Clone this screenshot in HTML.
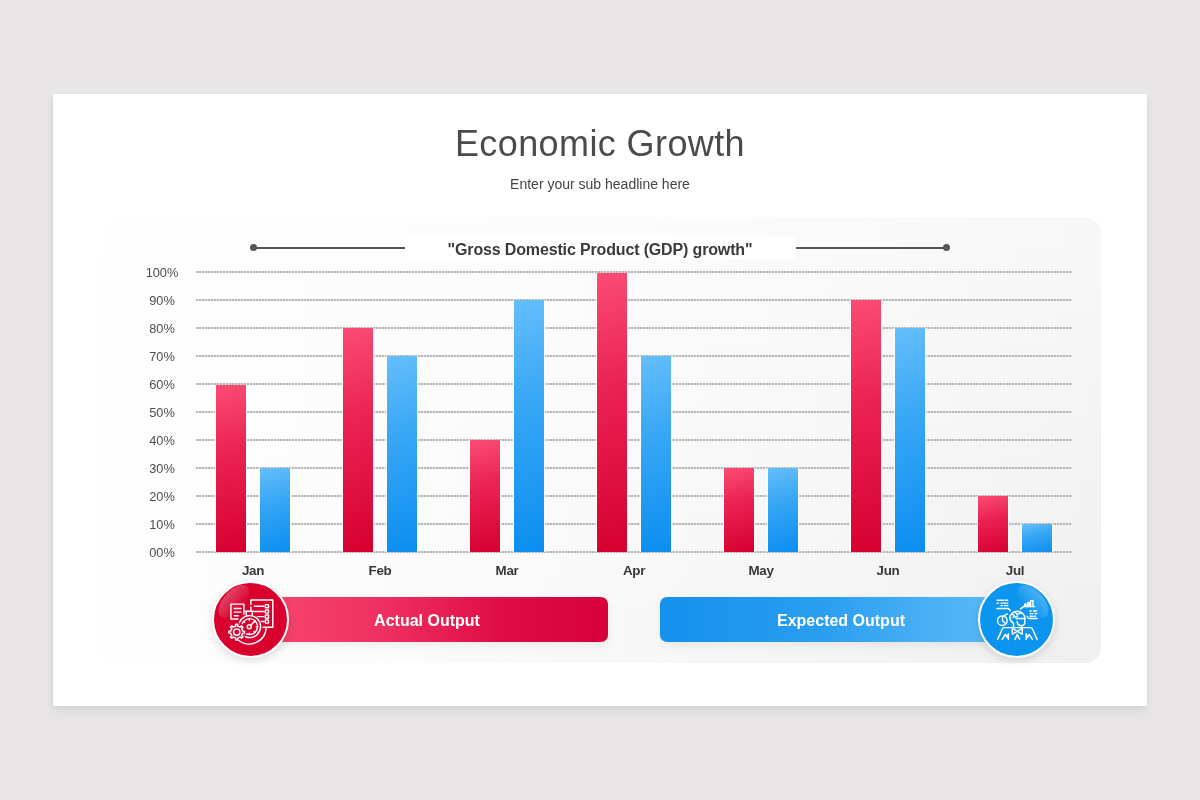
<!DOCTYPE html>
<html><head><meta charset="utf-8">
<style>
*{margin:0;padding:0;box-sizing:border-box}
html,body{width:1200px;height:800px;overflow:hidden}
.title,.sub,.gtitle,.yl,.ml,.lt{will-change:transform}
body{background:#e8e6e7;font-family:"Liberation Sans",sans-serif;position:relative}
.slide{position:absolute;left:53px;top:94px;width:1094px;height:612px;background:#fff;box-shadow:0 5px 10px rgba(0,0,0,0.07),-1px 1px 5px rgba(0,0,0,0.05)}
.title{position:absolute;left:0;width:1200px;top:123px;text-align:center;font-size:36px;letter-spacing:0.4px;color:#4b4b4b;line-height:42px;white-space:nowrap}
.sub{position:absolute;left:0;width:1200px;top:176px;text-align:center;font-size:14px;color:#444;line-height:16px;white-space:nowrap}
.panel{position:absolute;left:100px;top:217px;width:1001px;height:446px;border-radius:16px;
 background:linear-gradient(to bottom,rgba(255,255,255,.55) 0%,rgba(255,255,255,0) 100%),
 linear-gradient(to right,#fefefe 0%,#fbfbfb 30%,#f5f5f5 70%,#efefef 100%)}
.hline{position:absolute;height:2px;background:#555;top:246.5px}
.dot{position:absolute;width:7px;height:7px;border-radius:50%;background:#555;top:244.2px}
.gbox{position:absolute;left:405px;top:236px;width:390px;height:23px;background:#fff}
.gtitle{position:absolute;left:0;width:1200px;text-align:center;top:240.5px;font-weight:700;font-size:16px;letter-spacing:-0.15px;line-height:18px;color:#3a3a3a;white-space:nowrap}
.grid{position:absolute;left:196px;width:876px;height:2px;
 background:repeating-linear-gradient(90deg,#b6b6b6 0,#b6b6b6 2px,#e3e3e3 2px,#e3e3e3 3px)}
.yl{position:absolute;width:44px;left:140px;text-align:center;font-size:12.8px;color:#4e4e4e;line-height:15px}
.bar{position:absolute;width:30px;bottom:248px;box-shadow:1.2px 0 0 rgba(255,255,255,.9),-1.2px 0 0 rgba(255,255,255,.9)}
.r{background:linear-gradient(165deg,#fb4c74 0%,#ea2353 40%,#d6002f 100%)}
.b{background:linear-gradient(165deg,#64befa 0%,#38a7f5 40%,#0b8ef0 100%)}
.ml{position:absolute;width:60px;text-align:center;font-weight:700;font-size:13.4px;letter-spacing:-0.3px;color:#383838;top:563px;line-height:16px}
.leg{position:absolute;top:597px;height:45px;border-radius:7px;box-shadow:0 4px 8px rgba(0,0,0,.06)}
.lt{position:absolute;top:612px;color:#fff;font-weight:700;font-size:16px;line-height:18px;white-space:nowrap;text-align:center;width:200px}
.circ{position:absolute;width:77px;height:77px;border-radius:50%;border:2.5px solid #fff;box-shadow:0 3px 9px rgba(0,0,0,.13);overflow:hidden}
.hl{position:absolute;border-radius:50%}
</style></head><body>
<div class="slide"></div>
<div class="title">Economic Growth</div>
<div class="sub">Enter your sub headline here</div>
<div class="panel"></div>

<div class="hline" style="left:253px;width:152px"></div>
<div class="dot" style="left:250px"></div>
<div class="hline" style="left:796px;width:151px"></div>
<div class="dot" style="left:943px"></div>
<div class="gbox"></div>
<div class="gtitle">"Gross Domestic Product (GDP) growth"</div>

<div class="grid" style="top:271px"></div>
<div class="grid" style="top:299px"></div>
<div class="grid" style="top:327px"></div>
<div class="grid" style="top:355px"></div>
<div class="grid" style="top:383px"></div>
<div class="grid" style="top:411px"></div>
<div class="grid" style="top:439px"></div>
<div class="grid" style="top:467px"></div>
<div class="grid" style="top:495px"></div>
<div class="grid" style="top:523px"></div>
<div class="grid" style="top:551px"></div>
<div class="yl" style="top:265px">100%</div>
<div class="yl" style="top:293px">90%</div>
<div class="yl" style="top:321px">80%</div>
<div class="yl" style="top:349px">70%</div>
<div class="yl" style="top:377px">60%</div>
<div class="yl" style="top:405px">50%</div>
<div class="yl" style="top:433px">40%</div>
<div class="yl" style="top:461px">30%</div>
<div class="yl" style="top:489px">20%</div>
<div class="yl" style="top:517px">10%</div>
<div class="yl" style="top:545px">00%</div>

<div class="bar r" style="left:216px;height:167px"></div>
<div class="bar b" style="left:260px;height:84px"></div>
<div class="bar r" style="left:343px;height:224px"></div>
<div class="bar b" style="left:387px;height:196px"></div>
<div class="bar r" style="left:470px;height:112px"></div>
<div class="bar b" style="left:514px;height:252px"></div>
<div class="bar r" style="left:597px;height:279px"></div>
<div class="bar b" style="left:641px;height:196px"></div>
<div class="bar r" style="left:724px;height:84px"></div>
<div class="bar b" style="left:768px;height:84px"></div>
<div class="bar r" style="left:851px;height:252px"></div>
<div class="bar b" style="left:895px;height:224px"></div>
<div class="bar r" style="left:978px;height:56px"></div>
<div class="bar b" style="left:1022px;height:28px"></div>

<div class="ml" style="left:223px">Jan</div>
<div class="ml" style="left:350px">Feb</div>
<div class="ml" style="left:477px">Mar</div>
<div class="ml" style="left:604px">Apr</div>
<div class="ml" style="left:731px">May</div>
<div class="ml" style="left:858px">Jun</div>
<div class="ml" style="left:985px">Jul</div>

<div class="leg" style="left:262px;width:346px;background:linear-gradient(90deg,#f8466e 0%,#ee3060 35%,#df0c45 70%,#d7003a 100%)"></div>
<div class="lt" style="left:327px">Actual Output</div>
<div class="leg" style="left:660px;width:352px;background:linear-gradient(90deg,#1391ec 0%,#2a9def 45%,#4cb2f5 80%,#5bbaf7 100%)"></div>
<div class="lt" style="left:741px">Expected Output</div>

<div class="circ" style="left:212px;top:581px;background:#d9002e">
 <div class="hl" style="left:0px;top:8px;width:40px;height:21px;transform:rotate(-48deg);background:linear-gradient(to bottom,rgba(255,255,255,.26) 0%,rgba(255,255,255,.12) 55%,rgba(255,255,255,0) 100%)"></div>
</div>
<div class="circ" style="left:978px;top:581px;background:#0b95ef">
 <div class="hl" style="left:33px;top:8px;width:40px;height:21px;transform:rotate(48deg);background:linear-gradient(to bottom,rgba(255,255,255,.26) 0%,rgba(255,255,255,.12) 55%,rgba(255,255,255,0) 100%)"></div>
</div>

<svg style="position:absolute;left:0;top:0" width="1200" height="800" viewBox="0 0 1200 800" fill="none" stroke="#fff" stroke-width="1.45" stroke-linecap="round" stroke-linejoin="round">
 <g>
  <path d="M238 619H230.9V604.1H243.9V614.3"/>
  <path d="M234.3 608.5H240.9M234.3 612.1H240.9M234.3 615.8H238.3"/>
  <path d="M250.9 604.5V600H272.8V627.3H263"/>
  <path d="M250.9 607.3V610.5"/>
  <path d="M254.3 606.2H263.8M254.3 611.5H263.8M254.3 616.6H263.8M254.3 621.5H263.8"/>
  <rect x="265.3" y="604.6" width="3.2" height="3.2" rx=".4"/>
  <rect x="265.3" y="609.9" width="3.2" height="3.2" rx=".4"/>
  <rect x="265.3" y="615" width="3.2" height="3.2" rx=".4"/>
  <rect x="265.3" y="619.9" width="3.2" height="3.2" rx=".4"/>
  <circle cx="249.3" cy="626.8" r="12.8" fill="#d9002e" stroke="none"/>
  <circle cx="249.6" cy="626.6" r="11"/>
  <circle cx="249.6" cy="626.6" r="8"/>
  <path d="M246.3 615.2V611.2H252.3V615.2M245.2 611.2H253.4"/>
  <circle cx="249.3" cy="626.8" r="2"/>
  <path d="M250.8 625.3L254.3 621.6"/>
  <path d="M249.3 619V620.3M249.3 633.3V634.6M256.3 626.8H257.6M243.8 621.3L244.7 622.2M254.8 632.3L253.9 631.4M254.8 621.3L253.9 622.2"/>
  <path d="M234.40 626.56 L235.67 626.19 L235.71 624.26 L237.69 624.26 L237.73 626.19 L239.00 626.56 L240.15 627.19 L241.54 625.86 L242.94 627.26 L241.61 628.65 L242.24 629.80 L242.61 631.07 L244.54 631.11 L244.54 633.09 L242.61 633.13 L242.24 634.40 L241.61 635.55 L242.94 636.94 L241.54 638.34 L240.15 637.01 L239.00 637.64 L237.73 638.01 L237.69 639.94 L235.71 639.94 L235.67 638.01 L234.40 637.64 L233.25 637.01 L231.86 638.34 L230.46 636.94 L231.79 635.55 L231.16 634.40 L230.79 633.13 L228.86 633.09 L228.86 631.11 L230.79 631.07 L231.16 629.80 L231.79 628.65 L230.46 627.26 L231.86 625.86 L233.25 627.19Z" fill="#d9002e" stroke="#d9002e" stroke-width="4"/>
  <path d="M234.40 626.56 L235.67 626.19 L235.71 624.26 L237.69 624.26 L237.73 626.19 L239.00 626.56 L240.15 627.19 L241.54 625.86 L242.94 627.26 L241.61 628.65 L242.24 629.80 L242.61 631.07 L244.54 631.11 L244.54 633.09 L242.61 633.13 L242.24 634.40 L241.61 635.55 L242.94 636.94 L241.54 638.34 L240.15 637.01 L239.00 637.64 L237.73 638.01 L237.69 639.94 L235.71 639.94 L235.67 638.01 L234.40 637.64 L233.25 637.01 L231.86 638.34 L230.46 636.94 L231.79 635.55 L231.16 634.40 L230.79 633.13 L228.86 633.09 L228.86 631.11 L230.79 631.07 L231.16 629.80 L231.79 628.65 L230.46 627.26 L231.86 625.86 L233.25 627.19Z"/>
  <circle cx="236.7" cy="632.1" r="3.2"/>
  <path d="M238.6 640.2A17 17 0 0 0 266.2 627.6"/>
 </g>
 <g>
  <path d="M997 600.2H1003.8M1005.4 600.2H1007.8M997 603.1H998.5M1001 603.1H1007.8M1001 605.6H1002.5M1004.5 605.6H1007.8"/>
  <path d="M997 608.4H1008L1010.4 610.6"/>
  <path d="M1020.5 608.8L1023.8 606.4H1034.5"/>
  <path d="M1024.7 606.4V604H1026V606.4M1027.7 606.4V602.5H1029.3V606.4M1030.6 606.4V600.6H1033V606.4"/>
  <path d="M1030 611H1031.2M1033.5 611H1036.6M1030 613.6H1033M1035 613.6H1036.8M1030 616.3H1032.4M1034 616.3H1035.5"/>
  <path d="M1027 616.2C1027.5 617.6 1028.4 618.4 1029.6 618.4H1037.2"/>
  <circle cx="1002.3" cy="620.7" r="4.8"/>
  <path d="M1002.4 617.7L1002.7 621L1005 623.1"/>
  <path d="M1003.9 616.1Q1005.3 614.3 1007.5 614"/>
  <path d="M1009.8 617.4A7.6 7.4 0 0 1 1024.8 617.4V622.3C1024.8 624.2 1023.2 625.6 1021.2 625.6C1019 625.6 1017.3 624 1017.1 621.4"/>
  <path d="M1009.8 617.4C1010 620 1011.4 622 1013.5 623.4V627.6M1021.7 625.6V627.6M1016.2 618.4H1024.8"/>
  <path d="M1012.2 614.4L1014.4 615.4L1013.2 617.6M1015.4 612.2L1017 614.2L1019.8 613.4M1020.2 611.6L1021.4 613.4M1015.2 617.2L1017.6 616"/>
  <path d="M1004.4 627.6H1030.4M1012.3 628.3L1017.3 631.3L1022.3 628.3V634.2L1017.3 631.3L1012.3 634.2Z"/>
  <path d="M1004.4 627.6C1003.4 627.6 1002.6 628.2 1002.2 629.2L997.6 639.4M1030.4 627.6C1031.4 627.6 1032.2 628.2 1032.6 629.2L1037.1 639.4"/>
  <path d="M1002.2 639.4L1005.4 634.4L1007 637.4L1008.4 633.8V639.4M1032.4 639.4L1029.2 634.4L1027.6 637.4L1026.2 633.8V639.4"/>
  <path d="M1015 639.4L1017.3 634.4L1019.6 639.4"/>
 </g>
</svg>
</body></html>
